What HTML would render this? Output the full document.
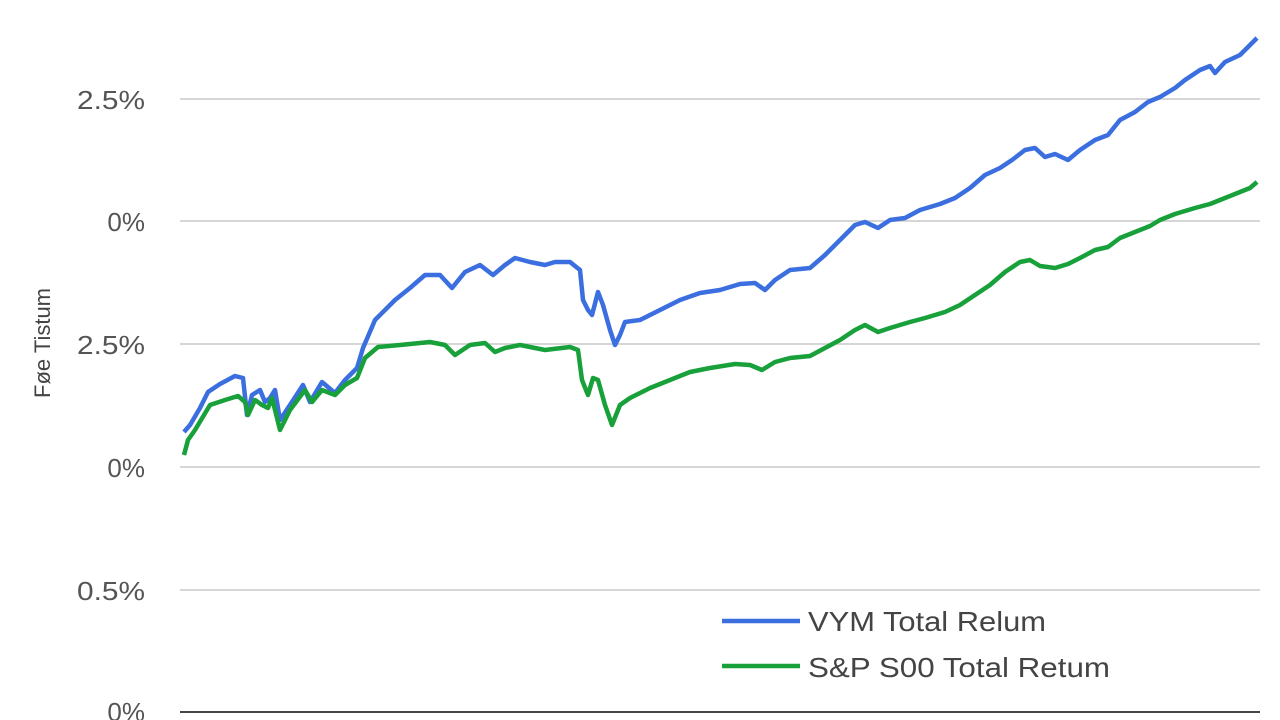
<!DOCTYPE html>
<html><head><meta charset="utf-8"><style>
html,body{margin:0;padding:0;background:#fff;width:1280px;height:720px;overflow:hidden}
svg text{font-family:"Liberation Sans",sans-serif}
</style></head><body>
<svg width="1280" height="720" viewBox="0 0 1280 720">
<g stroke="#c8c8c8" stroke-width="1.5">
<line x1="180" y1="99" x2="1260" y2="99"/>
<line x1="180" y1="221" x2="1260" y2="221"/>
<line x1="180" y1="344" x2="1260" y2="344"/>
<line x1="180" y1="467" x2="1260" y2="467"/>
<line x1="180" y1="590" x2="1260" y2="590"/>
</g>
<line x1="180" y1="712" x2="1260" y2="712" stroke="#444" stroke-width="2"/>
<g fill="#555" font-size="26" text-anchor="end">
<text x="145" y="109" textLength="68" lengthAdjust="spacingAndGlyphs">2.5%</text>
<text x="145" y="231">0%</text>
<text x="145" y="354" textLength="68" lengthAdjust="spacingAndGlyphs">2.5%</text>
<text x="145" y="477">0%</text>
<text x="145" y="600" textLength="68" lengthAdjust="spacingAndGlyphs">0.5%</text>
<text x="145" y="721">0%</text>
</g>
<text transform="translate(50,343) rotate(-90)" text-anchor="middle" font-size="22" fill="#444">Føe Tistum</text>
<g fill="none" stroke-width="4.5" stroke-linejoin="round">
<polyline stroke="#3b6fe0" points="184,432 190,425 200,408 208,392 220,384 235,376 243,378 247,415 252,395 260,390 265,402 270,398 275,390 280,420 290,405 303,385 310,402 322,382 335,393 345,380 357,368 363,348 375,320 395,300 410,288 425,275 440,275 452,288 465,272 480,265 493,275 505,265 515,258 530,262 545,265 555,262 570,262 580,270 583,300 588,310 592,315 598,292 603,305 610,330 615,345 620,335 625,322 640,320 660,310 680,300 700,293 720,290 740,284 755,283 765,290 775,280 790,270 810,268 825,255 840,240 855,225 865,222 878,228 890,220 905,218 920,210 940,204 955,198 970,188 985,175 1000,168 1012,160 1025,150 1035,148 1045,157 1055,154 1068,160 1080,150 1095,140 1108,135 1120,120 1135,112 1148,102 1160,97 1175,88 1185,80 1200,70 1210,66 1215,73 1225,62 1240,55 1250,45 1257,38"/>
<polyline stroke="#18a03a" points="184,455 188,440 195,430 210,405 225,400 238,396 245,402 248,415 255,400 262,405 268,408 272,398 280,430 290,410 305,390 312,402 322,390 335,395 345,385 357,378 365,358 378,347 400,345 430,342 445,345 455,355 470,345 485,343 495,352 505,348 520,345 545,350 570,347 578,350 582,380 588,395 593,378 598,380 605,405 612,425 620,405 630,398 650,388 670,380 690,372 710,368 735,364 750,365 762,370 775,362 790,358 810,356 825,348 840,340 855,330 865,325 878,332 890,328 910,322 925,318 945,312 960,305 975,295 990,285 1005,272 1020,262 1030,260 1040,266 1055,268 1068,264 1080,258 1095,250 1108,247 1120,238 1135,232 1150,226 1160,220 1175,214 1195,208 1210,204 1225,198 1240,192 1250,188 1257,182"/>
</g>
<line x1="722" y1="621" x2="800" y2="621" stroke="#3b6fe0" stroke-width="4.5"/>
<line x1="722" y1="666" x2="800" y2="666" stroke="#18a03a" stroke-width="4.5"/>
<g fill="#444" font-size="28">
<text x="808" y="631" textLength="238" lengthAdjust="spacingAndGlyphs">VYM Total Relum</text>
<text x="808" y="677" textLength="302" lengthAdjust="spacingAndGlyphs">S&amp;P S00  Total Retum</text>
</g>
</svg>
</body></html>
